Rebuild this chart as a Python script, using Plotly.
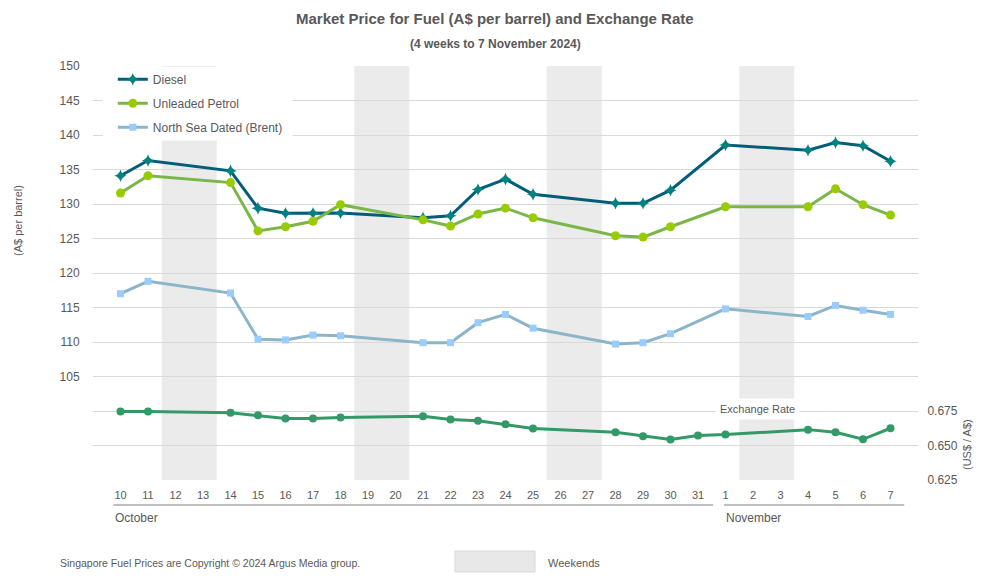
import plotly.graph_objects as go

# ---- data ----
days = ["10","11","12","13","14","15","16","17","18","19","20","21","22","23","24","25",
        "26","27","28","29","30","31","1","2","3","4","5","6","7"]
N = None
diesel = [134.1,136.3,N,N,134.8,129.4,128.65,128.65,128.7,N,N,128.0,128.3,132.1,133.6,131.4,
          N,N,130.1,130.1,132.0,N,138.55,N,N,137.8,138.9,138.45,136.2]
unleaded = [131.6,134.1,N,N,133.1,126.1,126.7,127.5,129.9,N,N,127.7,126.8,128.55,129.4,128.0,
            N,N,125.4,125.2,126.7,N,129.6,N,N,129.6,132.2,129.9,128.4]
brent = [117.0,118.8,N,N,117.1,110.4,110.3,111.0,110.9,N,N,109.9,109.9,112.8,114.0,112.0,
         N,N,109.7,109.9,111.2,N,114.8,N,N,113.7,115.3,114.6,114.0]
fx = [0.6746,0.6746,N,N,0.6738,0.6719,0.6695,0.6695,0.6702,N,N,0.6712,0.6688,0.6680,0.6654,0.6623,
      N,N,0.6596,0.6567,0.6543,0.6572,0.6579,N,N,0.6615,0.6596,0.6545,0.6625]
weekend_idx = [(2, 3), (9, 10), (16, 17), (23, 24)]
left_ticks = [90,95,100,105,110,115,120,125,130,135,140,145,150]
right_ticks = [0.625, 0.650, 0.675]

FONT = "Liberation Sans, Arial, sans-serif"
GREY = "#595959"
xs = list(range(len(days)))

fig = go.Figure()
fig.add_trace(go.Scatter(x=xs, y=diesel, name="Diesel", mode="lines+markers", connectgaps=True,
                         line=dict(color="#005E78", width=3),
                         marker=dict(symbol="star-diamond", size=9, color="#00827F"),
                         legendgroup="a"))
fig.add_trace(go.Scatter(x=xs, y=unleaded, name="Unleaded Petrol", mode="lines+markers", connectgaps=True,
                         line=dict(color="#7AB648", width=3),
                         marker=dict(symbol="circle", size=9, color="#99CC00"),
                         legendgroup="b"))
fig.add_trace(go.Scatter(x=xs, y=brent, name="North Sea Dated (Brent)", mode="lines+markers", connectgaps=True,
                         line=dict(color="#8DB5C8", width=3),
                         marker=dict(symbol="square", size=7, color="#99CCFF"),
                         legendgroup="c"))
fig.add_trace(go.Scatter(x=xs, y=fx, name="Exchange Rate", mode="lines+markers", connectgaps=True,
                         line=dict(color="#339966", width=3),
                         marker=dict(symbol="circle", size=8, color="#339966"),
                         yaxis="y2", showlegend=False))

shapes = []
for a, b in weekend_idx:
    shapes.append(dict(type="rect", xref="x", yref="paper", x0=a - 0.5, x1=b + 0.5, y0=0, y1=1,
                       fillcolor="#EBEBEB", line=dict(width=0), layer="between"))
# white box behind legend
shapes.append(dict(type="rect", xref="paper", yref="paper", x0=0.012, x1=0.242, y0=0.82, y1=0.998,
                   fillcolor="white", line=dict(width=0), layer="above"))
# month brackets
shapes.append(dict(type="line", xref="x", yref="paper", x0=-0.26, x1=21.55, y0=-0.0604, y1=-0.0604,
                   line=dict(color="#808080", width=1)))
shapes.append(dict(type="line", xref="x", yref="paper", x0=21.95, x1=28.5, y0=-0.0604, y1=-0.0604,
                   line=dict(color="#808080", width=1)))
# weekends key box
shapes.append(dict(type="rect", xref="paper", yref="paper", x0=0.4388, x1=0.5358, y0=-0.2222, y1=-0.1715,
                   fillcolor="#E8E8E8", line=dict(color="#D9D9D9", width=1)))


def px(x):
    return (x - 93) / 825


def py(y):
    return (480 - y) / 414


def ann(text, x, y, size, xanchor="center", xref="paper", **kw):
    return dict(text=text, xref=xref, yref="paper", x=x, y=y, xanchor=xanchor, yanchor="middle",
                showarrow=False, font=dict(size=size, color=GREY, family=FONT), **kw)


annotations = [
    ann("<b>Market Price for Fuel (A$ per barrel) and Exchange Rate</b>", px(495), py(19), 15),
    ann("<b>(4 weeks to 7 November 2024)</b>", px(495), py(44), 12),
    ann("(A$ per barrel)", px(18), py(221), 11, textangle=-90),
    ann("(US$ / A$)", px(967), py(445), 11, textangle=-90),
    ann("Exchange Rate", px(757), py(409), 11, bgcolor="white", borderpad=4),
    ann("October", -0.26, py(518), 12, xanchor="left", xref="x"),
    ann("November", 21.95, py(518), 12, xanchor="left", xref="x"),
    ann("Singapore Fuel Prices are Copyright © 2024 Argus Media group.", px(58), py(563), 10.5, xanchor="left"),
    ann("Weekends", px(546), py(563), 11, xanchor="left"),
]

fig.update_layout(
    width=993, height=588,
    margin=dict(l=93, r=75, t=66, b=108),
    paper_bgcolor="white", plot_bgcolor="white",
    font=dict(family=FONT, color=GREY, size=11),
    xaxis=dict(range=[-1, 29], tickvals=xs, ticktext=days, showgrid=False, zeroline=False,
               showline=False, ticks="outside", ticklen=5, tickcolor="rgba(0,0,0,0)",
               tickfont=dict(size=11, color=GREY)),
    yaxis=dict(range=[90, 150], tickvals=left_ticks,
               ticktext=["" if v < 105 else str(v) for v in left_ticks],
               showgrid=True, gridcolor="#D9D9D9", gridwidth=1, zeroline=False, showline=False,
               ticks="outside", ticklen=10, tickcolor="rgba(0,0,0,0)",
               tickfont=dict(size=12, color=GREY)),
    yaxis2=dict(range=[0.625, 0.925], overlaying="y", side="right", tickvals=right_ticks,
                ticktext=["0.625", "0.650", "0.675"], showgrid=False, zeroline=False, showline=False,
                ticks="outside", ticklen=6, tickcolor="rgba(0,0,0,0)",
                tickfont=dict(size=12, color=GREY)),
    legend=dict(x=0.024, y=1.003, xanchor="left", yanchor="top", bgcolor="rgba(0,0,0,0)",
                traceorder="grouped", tracegroupgap=5, font=dict(size=12, color=GREY, family=FONT)),
    shapes=shapes, annotations=annotations,
)
fig.write_html("out.html")
